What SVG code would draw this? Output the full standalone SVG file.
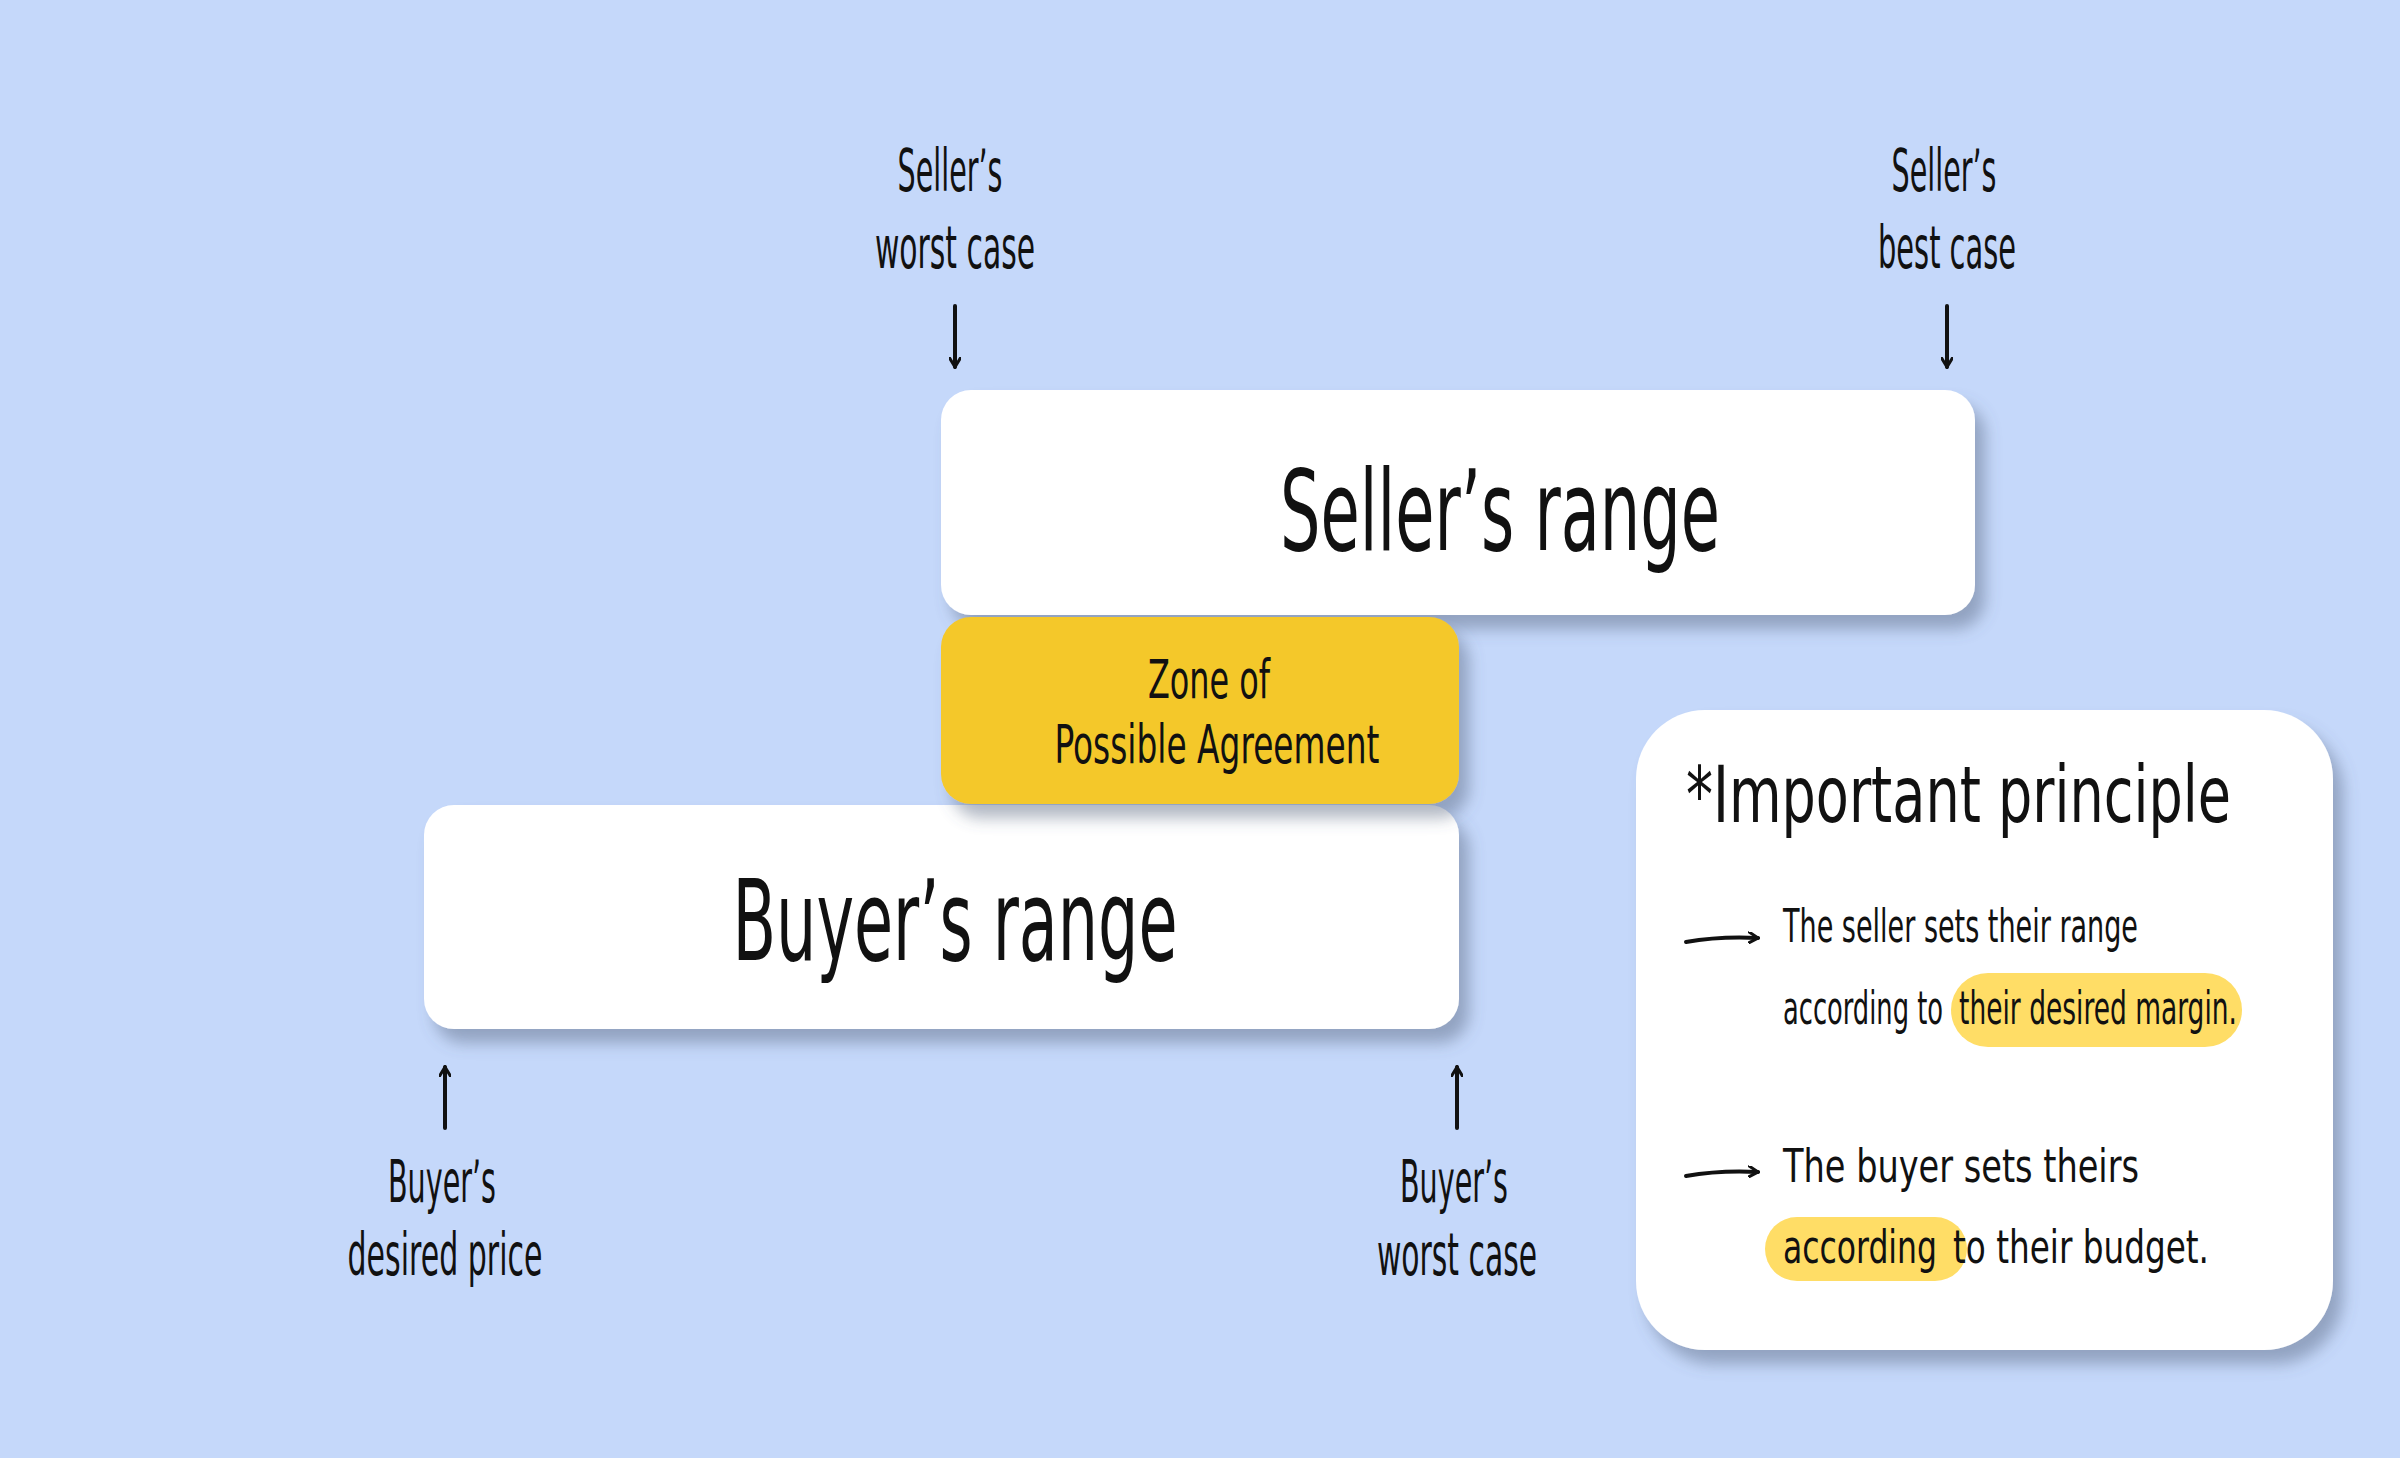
<svg xmlns="http://www.w3.org/2000/svg" width="2400" height="1458" viewBox="0 0 2400 1458">
<defs>
<style>
text{font-family:"DejaVu Sans Condensed","DejaVu Sans",sans-serif;font-stretch:condensed;fill:#111}
.lbl{font-size:58px;text-anchor:middle}
.big{font-size:112px;text-anchor:middle}
.z{font-size:54px;text-anchor:middle}
.b{font-size:46px}
.ln{stroke:#111;stroke-width:4;fill:none;stroke-linecap:round}
</style>
<filter id="sh" x="-10%" y="-10%" width="130%" height="140%"><feDropShadow dx="10" dy="14" stdDeviation="8" flood-color="#55607a" flood-opacity="0.45"/></filter>
<marker id="ah" markerWidth="12" markerHeight="12" refX="10" refY="6" orient="auto" markerUnits="userSpaceOnUse"><path d="M0,0 L10,6 L0,12" fill="none" stroke="#111" stroke-width="3"/></marker>
</defs>
<rect width="2400" height="1458" fill="#C5D8FA"/>
<g id="sellers-range"><rect x="941" y="390" width="1034" height="225" rx="30" fill="#fff" filter="url(#sh)"/><text class="big" x="1500" y="550" textLength="440" lengthAdjust="spacingAndGlyphs">Seller’s range</text></g>
<g id="buyers-range"><rect x="424" y="805" width="1035" height="224" rx="30" fill="#fff" filter="url(#sh)"/><text class="big" x="955" y="960" textLength="445" lengthAdjust="spacingAndGlyphs">Buyer’s range</text></g>
<g id="zopa"><rect x="941" y="617" width="518" height="187" rx="30" fill="#F4C82A" filter="url(#sh)"/><text class="z" x="1209" y="698" textLength="122" lengthAdjust="spacingAndGlyphs">Zone of</text><text class="z" x="1217" y="763" textLength="325" lengthAdjust="spacingAndGlyphs">Possible Agreement</text></g>
<g id="labels">
<text class="lbl" x="950" y="191" textLength="105" lengthAdjust="spacingAndGlyphs">Seller’s</text><text class="lbl" x="955" y="268" textLength="160" lengthAdjust="spacingAndGlyphs">worst case</text>
<text class="lbl" x="1944" y="191" textLength="105" lengthAdjust="spacingAndGlyphs">Seller’s</text><text class="lbl" x="1947" y="268" textLength="138" lengthAdjust="spacingAndGlyphs">best case</text>
<text class="lbl" x="442" y="1202" textLength="108" lengthAdjust="spacingAndGlyphs">Buyer’s</text><text class="lbl" x="445" y="1275" textLength="195" lengthAdjust="spacingAndGlyphs">desired price</text>
<text class="lbl" x="1454" y="1202" textLength="108" lengthAdjust="spacingAndGlyphs">Buyer’s</text><text class="lbl" x="1457" y="1275" textLength="160" lengthAdjust="spacingAndGlyphs">worst case</text>
</g>
<g id="connectors">
<line class="ln" x1="955" y1="306" x2="955" y2="367" marker-end="url(#ah)"/>
<line class="ln" x1="1947" y1="306" x2="1947" y2="367" marker-end="url(#ah)"/>
<line class="ln" x1="445" y1="1128" x2="445" y2="1067" marker-end="url(#ah)"/>
<line class="ln" x1="1457" y1="1128" x2="1457" y2="1067" marker-end="url(#ah)"/>
</g>
<g id="principle">
<rect x="1636" y="710" width="697" height="640" rx="69" fill="#fff" filter="url(#sh)"/>
<text x="1686" y="822" font-size="78" textLength="545" lengthAdjust="spacingAndGlyphs">*Important principle</text>
<path class="ln" d="M1686,942 Q1720,936 1758,938" marker-end="url(#ah)" stroke-width="2.5"/>
<text class="b" x="1783" y="942" textLength="355" lengthAdjust="spacingAndGlyphs">The seller sets their range</text>
<rect x="1951" y="973" width="291" height="74" rx="37" fill="#FFDD66"/>
<text class="b" x="1783" y="1024" textLength="160" lengthAdjust="spacingAndGlyphs">according to</text>
<text class="b" x="1959" y="1024" textLength="278" lengthAdjust="spacingAndGlyphs">their desired margin.</text>
<path class="ln" d="M1686,1176 Q1720,1170 1758,1172" marker-end="url(#ah)" stroke-width="2.5"/>
<text class="b" x="1783" y="1182" textLength="356" lengthAdjust="spacingAndGlyphs">The buyer sets theirs</text>
<rect x="1765" y="1217" width="202" height="64" rx="32" fill="#FFDD66"/>
<text class="b" x="1783" y="1263" textLength="154" lengthAdjust="spacingAndGlyphs">according</text>
<text class="b" x="1953" y="1263" textLength="256" lengthAdjust="spacingAndGlyphs">to their budget.</text>
</g>
</svg>
